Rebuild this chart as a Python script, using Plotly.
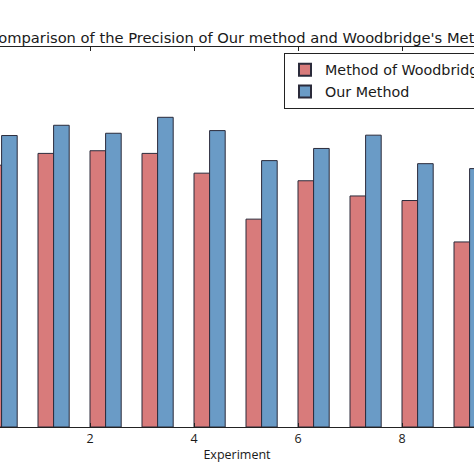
import plotly.graph_objects as go

experiments = [0, 1, 2, 3, 4, 5, 6, 7, 8, 9]
woodbridge = [0.689, 0.720, 0.727, 0.720, 0.668, 0.547, 0.648, 0.608, 0.596, 0.487]
ours = [0.767, 0.794, 0.773, 0.815, 0.780, 0.701, 0.733, 0.768, 0.693, 0.680]
tick_vals = [2, 4, 6, 8]
tick_text = ["2", "4", "6", "8"]

edge = dict(color="#2b2b3b", width=1)

fig = go.Figure()
fig.add_trace(go.Bar(x=experiments, y=woodbridge, name="Method of Woodbridge",
                     offset=0, width=0.3, marker=dict(color="#d87b7b", line=edge)))
fig.add_trace(go.Bar(x=experiments, y=ours, name="Our Method",
                     offset=0.3, width=0.3, marker=dict(color="#6a9bc6", line=edge)))

fig.update_layout(
    width=474, height=474,
    margin=dict(l=0, r=0, t=47, b=47, autoexpand=False),
    paper_bgcolor="white", plot_bgcolor="white",
    font=dict(family="DejaVu Sans", color="#1a1a1a"),
    title=dict(text="Comparison of the Precision of Our method and Woodbridge's Method",
               x=245/474, xanchor="center", xref="container",
               y=1-38/474, yanchor="middle", yref="container",
               font=dict(size=14.7, family="DejaVu Sans", color="#1a1a1a")),
    showlegend=True,
    legend=dict(x=284/474, xanchor="left", y=(427-53)/380, yanchor="top",
                bordercolor="#222", borderwidth=1, bgcolor="white",
                tracegroupgap=0, itemsizing="constant",
                font=dict(size=14.3, family="DejaVu Sans")),
    barmode="group",
    xaxis=dict(range=[2-90/52, 2+384/52], tickvals=tick_vals, ticktext=tick_text,
               showline=True, linecolor="#222", linewidth=1, mirror="ticks",
               ticks="inside", ticklen=4, tickcolor="#222", showgrid=False, zeroline=False,
               tickfont=dict(size=12.5, family="Open Sans"),
               title=dict(text="Experiment", font=dict(size=12.5, family="Open Sans"), standoff=4)),
    yaxis=dict(range=[0, 1], showticklabels=False, showgrid=False, zeroline=False,
               showline=False, ticks=""),
)

fig.write_html("out.html", config={"displayModeBar": False})
